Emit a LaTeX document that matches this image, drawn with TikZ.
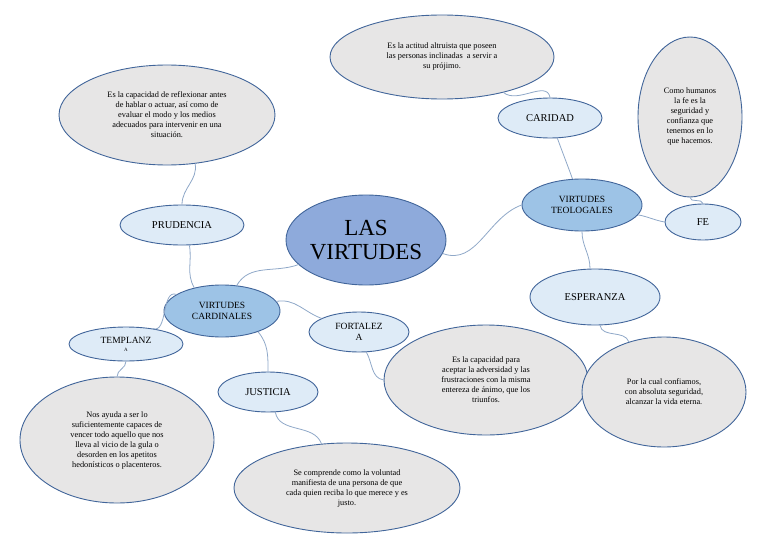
\documentclass[tikz,border=0pt]{standalone}
\usepackage{fontspec}
\setmainfont{Liberation Serif}
\usetikzlibrary{shapes.geometric}
\definecolor{edgeb}{HTML}{41659A}
\definecolor{mainb}{HTML}{8EAADB}
\definecolor{midb}{HTML}{9DC3E6}
\definecolor{lightb}{HTML}{DEEBF7}
\definecolor{grayf}{HTML}{E7E6E6}
\definecolor{conn}{HTML}{8FA8C8}
\begin{document}
\begin{tikzpicture}[x=1pt,y=-1pt,
  ov/.style={ellipse,draw=edgeb,line width=0.9pt,inner sep=0pt,align=center},
  mainn/.style={ov,fill=mainb,font=\fontsize{23}{24}\selectfont},
  midn/.style={ov,fill=midb,font=\fontsize{9.5}{10.5}\selectfont},
  lightn/.style={ov,fill=lightb,font=\fontsize{10.5}{11}\selectfont},
  descn/.style={ov,fill=grayf,font=\fontsize{8.3}{10}\selectfont},
  cn/.style={draw=conn,line width=0.8pt}]
\useasboundingbox (0,0) rectangle (768,543);
\node[mainn,minimum width=160,minimum height=90] (lv) at (366,240) {LAS\\VIRTUDES};
\node[midn,minimum width=116,minimum height=52] (vc) at (222,311) {VIRTUDES\\CARDINALES};
\node[midn,minimum width=120,minimum height=52] (vt) at (582,205) {VIRTUDES\\TEOLOGALES};
\node[lightn,minimum width=124,minimum height=40] (pr) at (182,225) {PRUDENCIA};
\node[lightn,minimum width=104,minimum height=40] (ca) at (550,118) {CARIDAD};
\node[lightn,minimum width=76,minimum height=36] (fe) at (703,222) {FE};
\node[lightn,minimum width=130,minimum height=56] (es) at (595,297) {ESPERANZA};
\node[lightn,minimum width=114,minimum height=34,font=\fontsize{9.5}{9}\selectfont] (te) at (126,344) {TEMPLANZ\\[-1pt]{\tiny A}};
\node[lightn,minimum width=100,minimum height=40,font=\fontsize{9.5}{10.5}\selectfont] (fo) at (359,332) {FORTALEZ\\A};
\node[lightn,minimum width=100,minimum height=40] (ju) at (268,392) {JUSTICIA};
\node[descn,minimum width=216,minimum height=100] (dpr) at (167,115) {Es la capacidad de reflexionar antes\\de hablar o actuar, así como de\\evaluar el modo y los medios\\adecuados para intervenir en una\\situación.};
\node[descn,minimum width=224,minimum height=84] (dca) at (442,57) {Es la actitud altruista que poseen\\las personas inclinadas\ \ a servir a\\su prójimo.};
\node[descn,minimum width=104,minimum height=160] (dfe) at (690,117) {Como humanos\\la fe es la\\seguridad y\\confianza que\\tenemos en lo\\que hacemos.};
\node[descn,minimum width=204,minimum height=110] (dfo) at (486,380) {Es la capacidad para\\aceptar la adversidad y las\\frustraciones con la misma\\entereza de ánimo, que los\\triunfos.};
\node[descn,minimum width=164,minimum height=110] (des) at (664,392) {Por la cual confiamos,\\con absoluta seguridad,\\alcanzar la vida eterna.};
\node[descn,minimum width=194,minimum height=126] (dte) at (117,440) {Nos ayuda a ser lo\\suficientemente capaces de\\vencer todo aquello que nos\\lleva al vicio de la gula o\\desorden en los apetitos\\hedonísticos o placenteros.};
\node[descn,minimum width=226,minimum height=90] (dju) at (347,488) {Se comprende como la voluntad\\manifiesta de una persona de que\\cada quien reciba lo que merece y es\\justo.};
\draw[cn] (lv.200) to[out=200,in=60] (vc.60);
\draw[cn] (lv.-10) to[out=-20,in=200] (vt.west);
\draw[cn] (vc.140) to[out=120,in=-80] (pr.-70);
\draw[cn] (vc.160) to[out=160,in=-20] (te.30);
\draw[cn] (vc.-30) to[out=-50,in=90] (ju.north);
\draw[cn] (vc.10) to[out=10,in=160] (fo.160);
\draw[cn] (vt.110) to[out=110,in=-70] (ca.-70);
\draw[cn] (vt.-10) to[out=-10,in=170] (fe.west);
\draw[cn] (vt.-90) to[out=-90,in=90] (es.100);
\draw[cn] (pr.north) to[out=90,in=-80] (dpr.-60);
\draw[cn] (ca.north) to[out=100,in=-40] (dca.-30);
\draw[cn] (fe.north) to[out=100,in=-90] (dfe.south);
\draw[cn] (fo.-70) to[out=-60,in=170] (dfo.180);
\draw[cn] (es.-80) to[out=-80,in=110] (des.125);
\draw[cn] (te.south) to[out=-90,in=90] (dte.north);
\draw[cn] (ju.-70) to[out=-80,in=110] (dju.120);
\end{tikzpicture}
\end{document}
